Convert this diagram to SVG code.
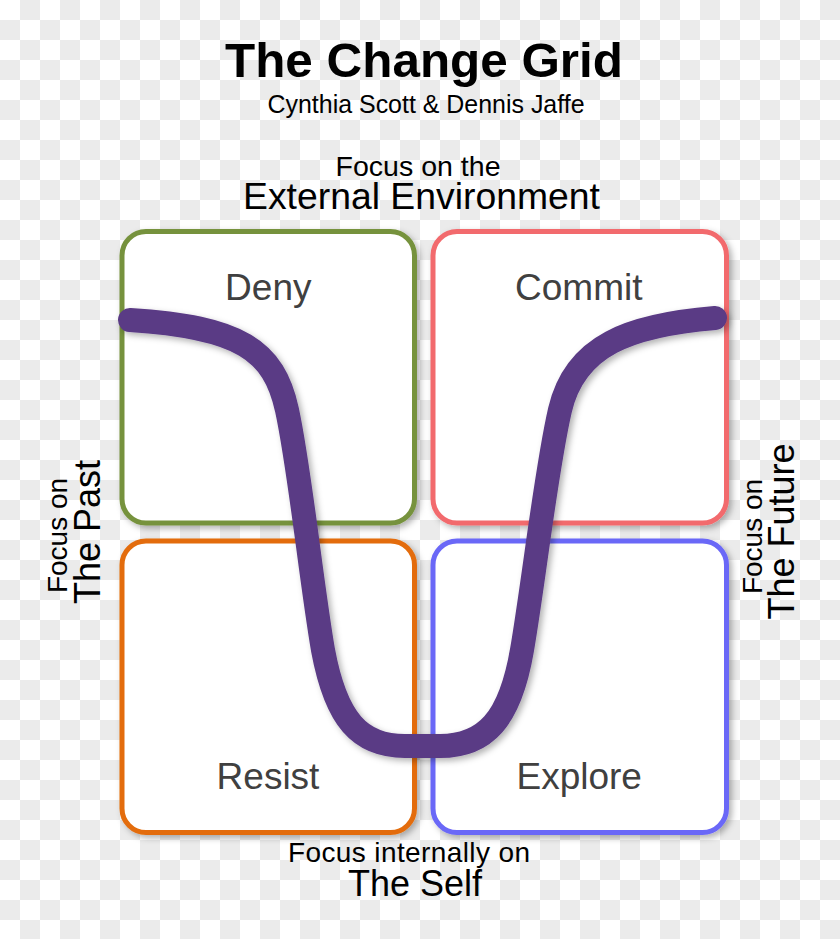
<svg xmlns="http://www.w3.org/2000/svg" width="840" height="939" viewBox="0 0 840 939">
  <defs>
    <pattern id="checker" x="0" y="0" width="40" height="40" patternUnits="userSpaceOnUse">
      <rect width="40" height="40" fill="#ffffff"/>
      <rect x="20" y="0" width="20" height="20" fill="#ebebeb"/>
      <rect x="0" y="20" width="20" height="20" fill="#ebebeb"/>
    </pattern>
    <filter id="shadow" x="-10%" y="-10%" width="125%" height="125%">
      <feDropShadow dx="3" dy="3" stdDeviation="3" flood-color="#000000" flood-opacity="0.3"/>
    </filter>
    <style>
      .sans { font-family: "Liberation Sans", Arial, sans-serif; }
      .box { fill: #ffffff; stroke-width: 5; filter: url(#shadow); }
      .lbl { font-family: "Liberation Sans", Arial, sans-serif; font-size: 37px; fill: #404040; text-anchor: middle; }
      .axis-s { font-family: "Liberation Sans", Arial, sans-serif; font-size: 28px; fill: #000000; text-anchor: middle; }
      .axis-l { font-family: "Liberation Sans", Arial, sans-serif; font-size: 36px; fill: #000000; text-anchor: middle; }
      .curve { fill: none; stroke: #5a3a85; stroke-width: 24; stroke-linecap: round; stroke-linejoin: round; filter: url(#shadow); }
    </style>
  </defs>

  <rect x="0" y="0" width="840" height="939" fill="url(#checker)"/>

  <g id="title">
    <text class="sans" x="424" y="77" font-size="49" font-weight="bold" text-anchor="middle" fill="#000000" textLength="398" lengthAdjust="spacingAndGlyphs">The Change Grid</text>
    <text class="sans" x="426" y="112.5" font-size="25" text-anchor="middle" fill="#000000" textLength="317" lengthAdjust="spacingAndGlyphs">Cynthia Scott &amp; Dennis Jaffe</text>
  </g>

  <g id="axis-top">
    <text class="axis-s" x="418" y="176" textLength="165" lengthAdjust="spacingAndGlyphs">Focus on the</text>
    <text class="axis-l" x="421.5" y="209" textLength="357" lengthAdjust="spacingAndGlyphs">External Environment</text>
  </g>

  <g id="axis-bottom">
    <text class="axis-s" x="409" y="862" textLength="242" lengthAdjust="spacing">Focus internally on</text>
    <text class="axis-l" x="415" y="896" textLength="134" lengthAdjust="spacingAndGlyphs">The Self</text>
  </g>

  <g id="axis-left">
    <text class="axis-s" transform="translate(67,535.5) rotate(-90)">Focus on</text>
    <text class="axis-l" transform="translate(100,532) rotate(-90)">The Past</text>
  </g>

  <g id="axis-right">
    <text class="axis-s" transform="translate(762,536.5) rotate(-90)">Focus on</text>
    <text class="axis-l" transform="translate(794,531.5) rotate(-90)">The Future</text>
  </g>

  <g id="deny">
    <rect class="box" x="122" y="231.5" width="292.5" height="291.5" rx="24" ry="24" stroke="#76923c"/>
    <text class="lbl" x="268.3" y="300">Deny</text>
  </g>
  <g id="commit">
    <rect class="box" x="433" y="231.5" width="293.5" height="291.5" rx="24" ry="24" stroke="#f26a6d"/>
    <text class="lbl" x="578.8" y="300">Commit</text>
  </g>
  <g id="resist">
    <rect class="box" x="122" y="541" width="292.5" height="291.5" rx="24" ry="24" stroke="#e36c0a"/>
    <text class="lbl" x="268" y="789">Resist</text>
  </g>
  <g id="explore">
    <rect class="box" x="433" y="541" width="293.5" height="291.5" rx="24" ry="24" stroke="#6b67f7"/>
    <text class="lbl" x="579.2" y="789">Explore</text>
  </g>

  <g id="connectors">
    <path class="curve" d="M130,320 C240,327 274,350 287,410 C300,470 311,580 323,650 C336,720 360,746 405,746 L440,746 C485,746 510,720 522,650 C534,580 546,470 560,410 C575,345 630,325 715,318"/>
  </g>
</svg>
